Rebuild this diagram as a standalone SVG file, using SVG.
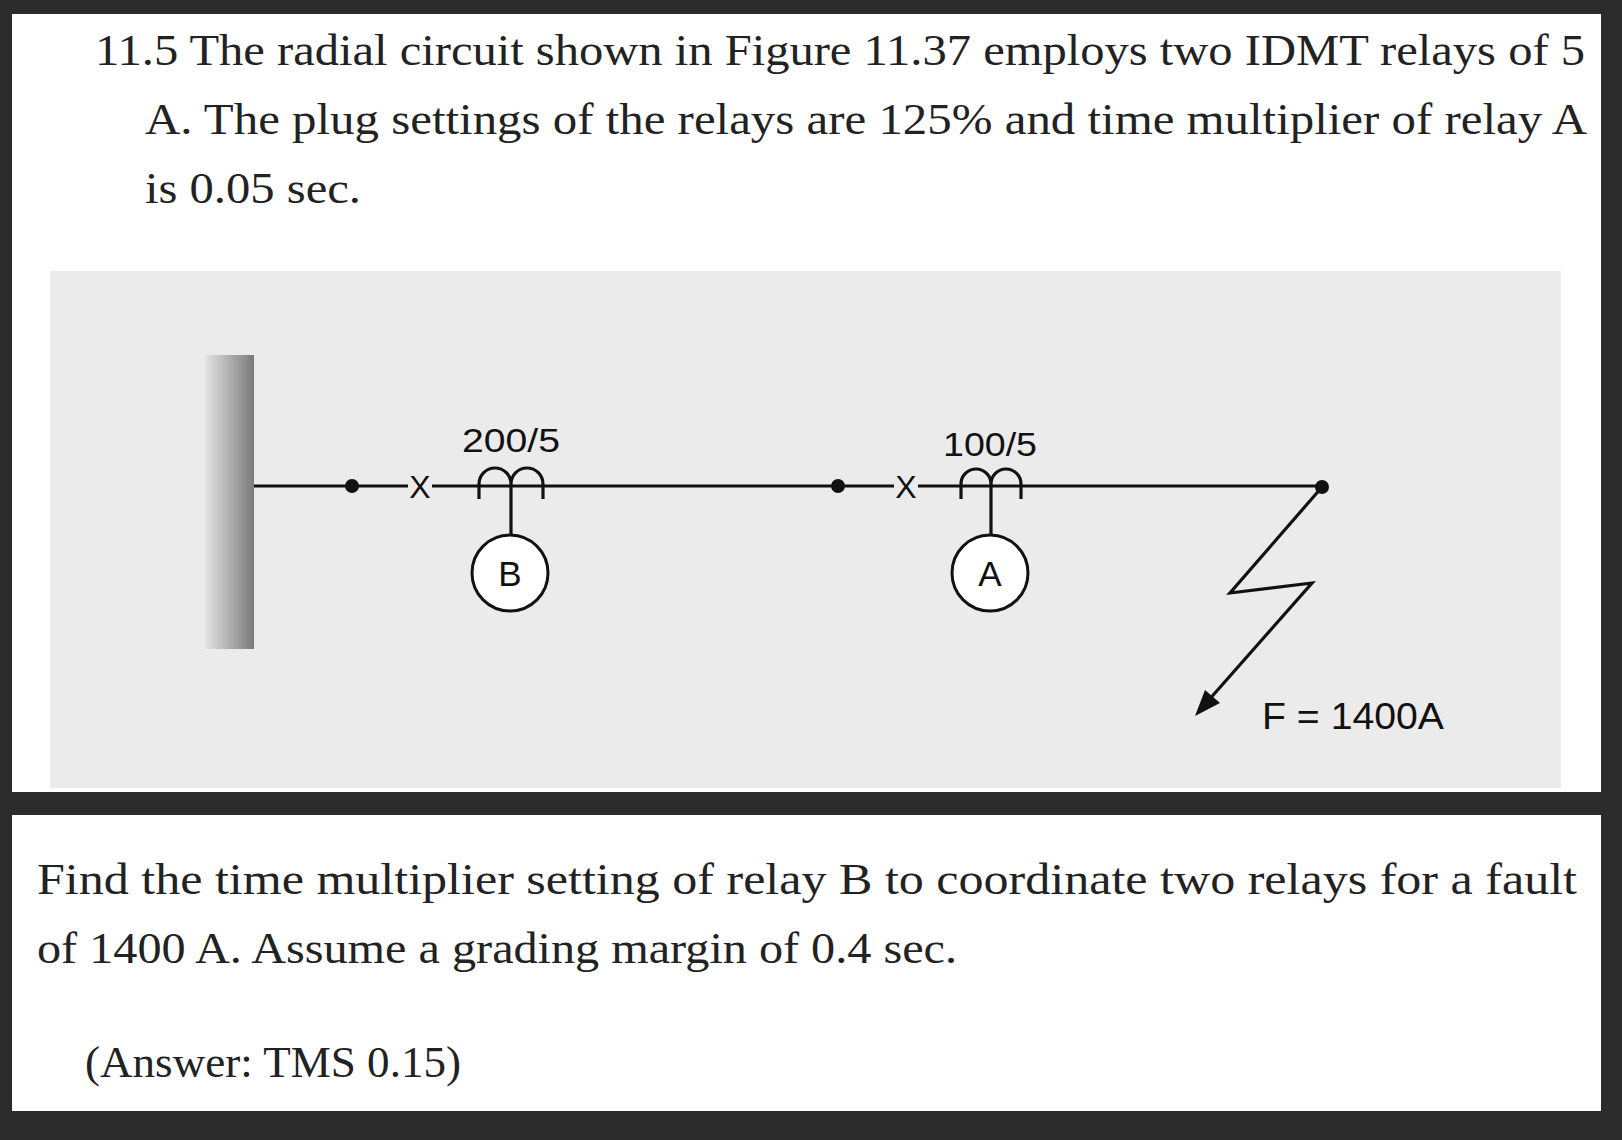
<svg xmlns="http://www.w3.org/2000/svg" width="1622" height="1140" viewBox="0 0 1622 1140">
<style>
.t{font-family:"Liberation Serif",serif;font-size:45px;fill:#222}
.s{font-family:"Liberation Sans",Arial,sans-serif;fill:#111}
.w{stroke:#111;stroke-width:3.2;fill:none}
</style>
<defs>
<linearGradient id="bus" x1="0" x2="1"><stop offset="0" stop-color="#e4e4e4"/><stop offset="1" stop-color="#7a7a7a"/></linearGradient>
<marker id="ah" viewBox="0 0 10 10" refX="9" refY="5" markerWidth="9" markerHeight="9" markerUnits="userSpaceOnUse" orient="auto"><path d="M0,0L10,5L0,10z" fill="#111"/></marker>
</defs>
<rect width="1622" height="1140" fill="#2b2b2b"/>
<rect x="12" y="14" width="1589" height="778" fill="#fff"/>
<rect x="12" y="815" width="1589" height="296" fill="#fff"/>
<rect x="50" y="271" width="1511" height="517" fill="#ebebeb"/>
<text class="t" x="95" y="65" textLength="1490" lengthAdjust="spacingAndGlyphs">11.5 The radial circuit shown in Figure 11.37 employs two IDMT relays of 5</text>
<text class="t" x="145" y="134" textLength="1442" lengthAdjust="spacingAndGlyphs">A. The plug settings of the relays are 125% and time multiplier of relay A</text>
<text class="t" x="145" y="203" textLength="216" lengthAdjust="spacingAndGlyphs">is 0.05 sec.</text>
<text class="t" x="37" y="894" textLength="1540" lengthAdjust="spacingAndGlyphs">Find the time multiplier setting of relay B to coordinate two relays for a fault</text>
<text class="t" x="37" y="963" textLength="920" lengthAdjust="spacingAndGlyphs">of 1400 A. Assume a grading margin of 0.4 sec.</text>
<text class="t" x="85" y="1077" textLength="376" lengthAdjust="spacingAndGlyphs">(Answer: TMS 0.15)</text>
<g id="busbar"><rect x="205" y="355" width="49" height="294" fill="url(#bus)"/></g>
<g id="connectors">
<path class="w" d="M254 486H408M432 486H894M918 486H1322"/>
<path class="w" d="M1322 487L1230 593L1312 583L1200 710"/>
<path d="M1195 716L1205 690L1220 703z" fill="#111"/>
</g>
<g id="breakerB"><circle cx="352" cy="486" r="7" fill="#111"/><text class="s" x="420" y="498" font-size="32" text-anchor="middle">X</text></g>
<g id="breakerA"><circle cx="838" cy="486" r="7" fill="#111"/><text class="s" x="906" y="498" font-size="32" text-anchor="middle">X</text></g>
<g id="ctB">
<path class="w" d="M479 499V484A16 16 0 0 1 511 484A16 16 0 0 1 543 484V499M511 484V535"/>
<text class="s" x="511" y="452" font-size="34" text-anchor="middle" textLength="98" lengthAdjust="spacingAndGlyphs">200/5</text>
</g>
<g id="relayB"><circle cx="510" cy="573" r="38" fill="#fff" stroke="#111" stroke-width="3"/><text class="s" x="510" y="586" font-size="35" text-anchor="middle">B</text></g>
<g id="ctA">
<path class="w" d="M961 499V484A15 15 0 0 1 991 484A15 15 0 0 1 1021 484V499M991 484V535"/>
<text class="s" x="990" y="456" font-size="34" text-anchor="middle" textLength="94" lengthAdjust="spacingAndGlyphs">100/5</text>
</g>
<g id="relayA"><circle cx="990" cy="573" r="38" fill="#fff" stroke="#111" stroke-width="3"/><text class="s" x="990" y="586" font-size="35" text-anchor="middle">A</text></g>
<g id="fault"><circle cx="1322" cy="487" r="7" fill="#111"/><text class="s" x="1262" y="729" font-size="36" textLength="182" lengthAdjust="spacingAndGlyphs">F = 1400A</text></g>
</svg>
